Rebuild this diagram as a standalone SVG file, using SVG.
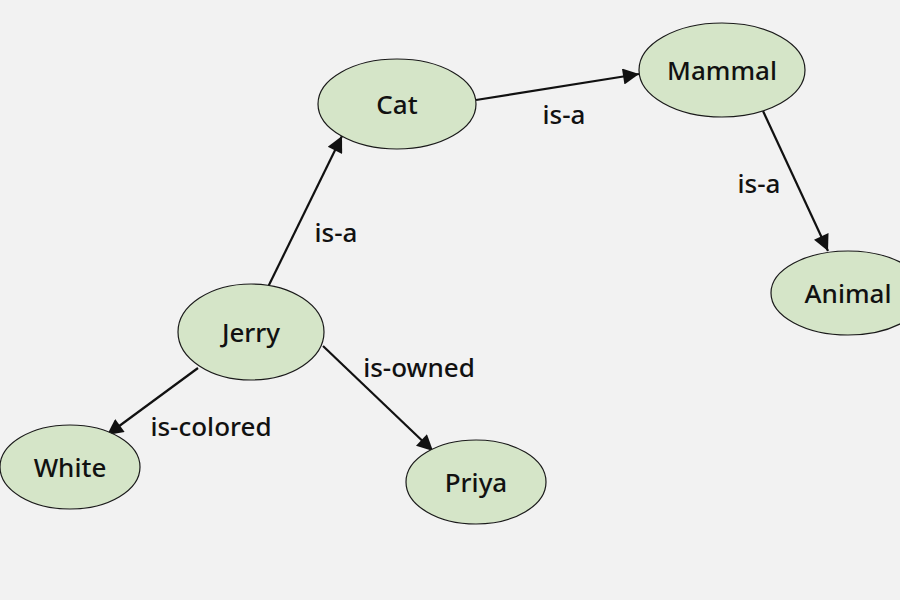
<svg xmlns="http://www.w3.org/2000/svg" width="900" height="600" viewBox="0 0 900 600">
<defs>
<style>
.node ellipse{fill:#d5e5c8;stroke:#1a1a1a;stroke-width:1.2}
.node text{font-family:"Noto Sans","Open Sans",sans-serif;font-size:26px;font-weight:500;fill:#111;text-anchor:middle;dominant-baseline:central}
.edges line{stroke:#111;stroke-width:2.2}
.lbl{font-family:"Noto Sans","Open Sans",sans-serif;font-size:26px;font-weight:500;fill:#111;text-anchor:middle;dominant-baseline:central}
</style>
<marker id="a" viewBox="0 0 10 10" refX="10" refY="5" markerWidth="18" markerHeight="16" markerUnits="userSpaceOnUse" orient="auto">
<path d="M0,0 L10,5 L0,10 z" fill="#111"/>
</marker>
</defs>
<rect width="900" height="600" fill="#f2f2f2"/>
<g id="connectors" class="edges">
<line x1="268" y1="287" x2="342" y2="136" marker-end="url(#a)"/>
<line x1="476" y1="100" x2="639" y2="74" marker-end="url(#a)"/>
<line x1="763" y1="111" x2="828" y2="251" marker-end="url(#a)"/>
<line x1="198" y1="368" x2="107" y2="435" marker-end="url(#a)"/>
<line x1="323" y1="346" x2="433" y2="451" marker-end="url(#a)"/>
<text class="lbl" x="336" y="232">is-a</text>
<text class="lbl" x="564" y="114">is-a</text>
<text class="lbl" x="759" y="183">is-a</text>
<text class="lbl" x="419" y="367">is-owned</text>
<text class="lbl" x="211" y="426">is-colored</text>
</g>
<g id="cat" class="node"><ellipse cx="397" cy="104" rx="79" ry="45"/><text x="397" y="104">Cat</text></g>
<g id="mammal" class="node"><ellipse cx="722" cy="70" rx="83" ry="47"/><text x="722" y="70">Mammal</text></g>
<g id="animal" class="node"><ellipse cx="848" cy="293" rx="77" ry="42"/><text x="848" y="293">Animal</text></g>
<g id="jerry" class="node"><ellipse cx="251" cy="332" rx="73" ry="48"/><text x="251" y="332">Jerry</text></g>
<g id="white" class="node"><ellipse cx="70" cy="467" rx="70" ry="42"/><text x="70" y="467">White</text></g>
<g id="priya" class="node"><ellipse cx="476" cy="482" rx="70" ry="42"/><text x="476" y="482">Priya</text></g>
</svg>
